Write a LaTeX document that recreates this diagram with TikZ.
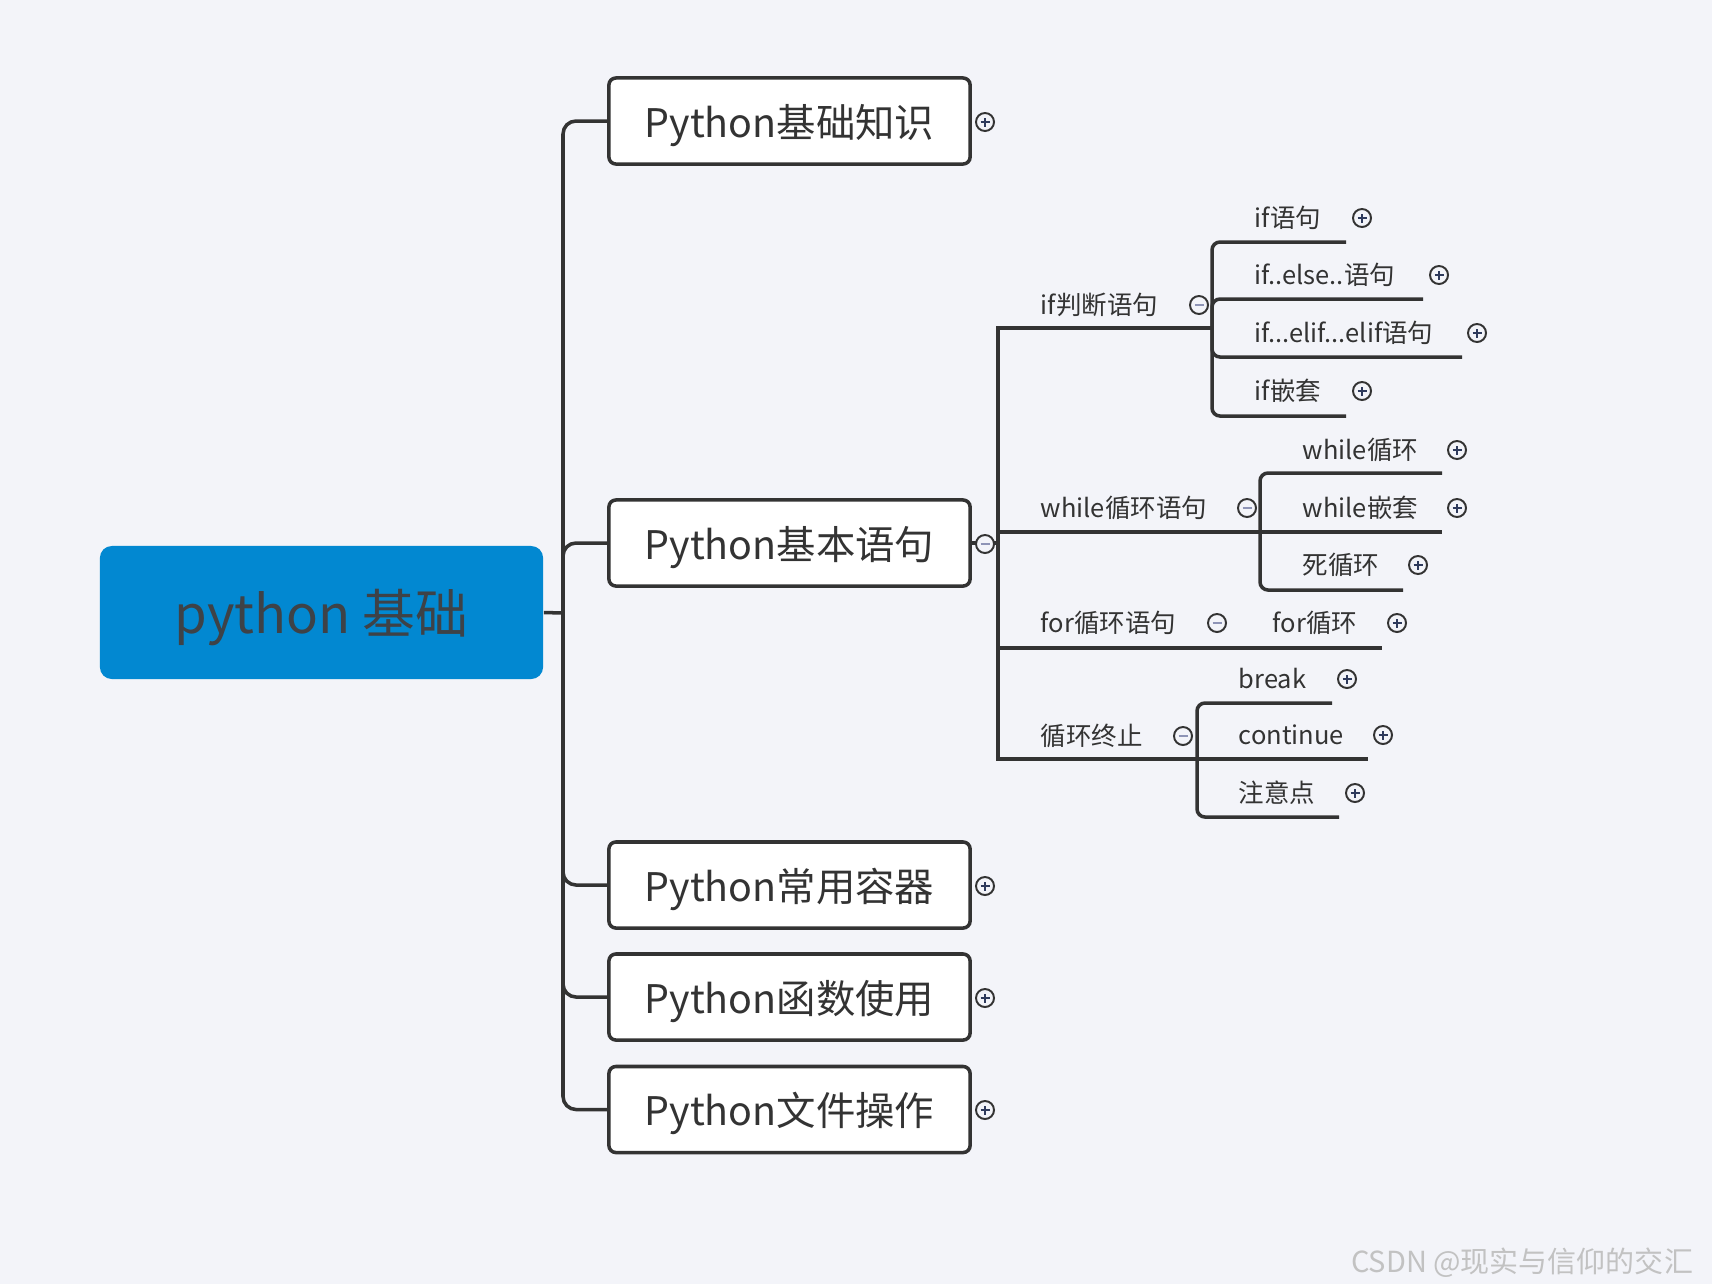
\documentclass[tikz,border=0pt]{standalone}
\usepackage{fontspec}
\usepackage{tikz}
\usetikzlibrary{positioning}
\newfontfamily\cjk{Noto Sans CJK SC}
\definecolor{BgGray}{HTML}{F3F4F9}
\definecolor{RootBlue}{HTML}{0288D1}
\definecolor{LineDark}{HTML}{333333}
\definecolor{TextDark}{HTML}{333333}
\definecolor{RootText}{HTML}{3E4247}
\definecolor{SignNavy}{HTML}{2E3A5C}
\definecolor{SignGray}{HTML}{8E94B6}
\definecolor{MarkGray}{HTML}{C2C2C2}
\tikzset{
  rootbox/.style={fill=RootBlue,rounded corners=0.12cm,
    minimum width=4.43cm,minimum height=1.33cm,inner sep=0pt,
    font=\cjk\fontsize{15.0}{18}\selectfont,text=RootText,
    text height=1.3em,text depth=0.12em},
  topicbox/.style={draw=LineDark,fill=white,line width=1pt,rounded corners=0.07cm,
    minimum width=3.61cm,minimum height=0.86cm,inner sep=0pt,
    font=\cjk\fontsize{11.2}{14}\selectfont,text=TextDark,
    text height=1.05em,text depth=0.12em},
  subtopic/.style={anchor=west,inner sep=0pt,
    font=\cjk\fontsize{7.25}{9}\selectfont,text=TextDark,
    text height=0.64em,text depth=0.12em},
  link/.style={draw=LineDark,line width=1pt},
  elbow/.style={link,rounded corners=0.08cm},
  plusmark/.style={circle,draw=LineDark,line width=0.55pt,fill=BgGray,
    minimum size=0.18cm,inner sep=0pt,
    path picture={\draw[SignNavy,line width=0.7pt]
      ([xshift=-0.045cm]path picture bounding box.center) -- ([xshift=0.045cm]path picture bounding box.center)
      ([yshift=-0.045cm]path picture bounding box.center) -- ([yshift=0.045cm]path picture bounding box.center);}},
  minusmark/.style={circle,draw=LineDark,line width=0.55pt,fill=BgGray,
    minimum size=0.18cm,inner sep=0pt,
    path picture={\draw[SignGray,line width=0.7pt]
      ([xshift=-0.045cm]path picture bounding box.center) -- ([xshift=0.045cm]path picture bounding box.center);}},
}
\begin{document}
\begin{tikzpicture}[x=0.01cm,y=-0.01cm]
  \fill[BgGray] (0,0) rectangle (1712,1284);
  \useasboundingbox (0,0) rectangle (1712,1284);
  % root and first level
  \node[rootbox] (root) at (321.5,612.5) {python 基础};
  \node[topicbox] (py1) at (789.5,121) {Python基础知识};
  \node[topicbox] (py2) at (789.5,543) {Python基本语句};
  \node[topicbox] (py3) at (789.5,885) {Python常用容器};
  \node[topicbox] (py4) at (789.5,997) {Python函数使用};
  \node[topicbox] (py5) at (789.5,1109.5) {Python文件操作};
  \coordinate (tr0) at (563,613);
  \coordinate (tr1) at (998,543);
  \draw[link] (root.east) -- (tr0);
  \draw[link,rounded corners=0.13cm] (tr0) |- (py1.west);
  \draw[link,rounded corners=0.13cm] (tr0) |- (py2.west);
  \draw[link,rounded corners=0.13cm] (tr0) |- (py3.west);
  \draw[link,rounded corners=0.13cm] (tr0) |- (py4.west);
  \draw[link,rounded corners=0.13cm] (tr0) |- (py5.west);
  \draw[link] (py2.east) -- (tr1);
  \node[plusmark] (pm1) at (985,122) {};
  \node[minusmark] (pm2) at (985,544) {};
  \node[plusmark] (pm3) at (985,886) {};
  \node[plusmark] (pm4) at (985,998) {};
  \node[plusmark] (pm5) at (985,1110) {};
  % second level
  \node[subtopic] (s1) at (1040,305) {if判断语句};
  \node[subtopic] (s2) at (1040,508) {while循环语句};
  \node[subtopic] (s3) at (1040,623) {for循环语句};
  \node[subtopic] (s4) at (1040,736) {循环终止};
  \coordinate (e1) at (1212,328);
  \coordinate (e2) at (1260,532);
  \coordinate (e3) at (1230,648);
  \coordinate (e4) at (1197,759);
  \draw[link] (tr1) |- (e1);
  \draw[link] (tr1) |- (e2);
  \draw[link] (tr1) |- (e3);
  \draw[link] (tr1) |- (e4);
  \node[minusmark] (sm1) at (1199,305) {};
  \node[minusmark] (sm2) at (1247,508) {};
  \node[minusmark] (sm3) at (1217,623) {};
  \node[minusmark] (sm4) at (1183,736) {};
  % third level
  \node[subtopic] (l1) at (1254,218) {if语句};
  \node[subtopic] (l2) at (1254,275) {if..else..语句};
  \node[subtopic] (l3) at (1254,333) {if...elif...elif语句};
  \node[subtopic] (l4) at (1254,391) {if嵌套};
  \node[subtopic] (l5) at (1302,450) {while循环};
  \node[subtopic] (l6) at (1302,508) {while嵌套};
  \node[subtopic] (l7) at (1302,565) {死循环};
  \node[subtopic] (l8) at (1272,623) {for循环};
  \node[subtopic] (l9) at (1238,679) {break};
  \node[subtopic] (l10) at (1238,735) {continue};
  \node[subtopic] (l11) at (1238,793) {注意点};
  \coordinate (f1) at (1346,242);
  \coordinate (f2) at (1423,299);
  \coordinate (f3) at (1462,357);
  \coordinate (f4) at (1346,416);
  \coordinate (f5) at (1442,473);
  \coordinate (f6) at (1442,532);
  \coordinate (f7) at (1403,590);
  \coordinate (f8) at (1382,648);
  \coordinate (f9) at (1332,703);
  \coordinate (f10) at (1368,759);
  \coordinate (f11) at (1339,817);
  \draw[elbow] (e1) |- (f1);
  \draw[elbow] (e1) |- (f2);
  \draw[elbow] (e1) |- (f3);
  \draw[elbow] (e1) |- (f4);
  \draw[elbow] (e2) |- (f5);
  \draw[link] (e2) -- (f6);
  \draw[elbow] (e2) |- (f7);
  \draw[link] (e3) -- (f8);
  \draw[elbow] (e4) |- (f9);
  \draw[link] (e4) -- (f10);
  \draw[elbow] (e4) |- (f11);
  \node[plusmark] (lm1) at (1362,218) {};
  \node[plusmark] (lm2) at (1439,275) {};
  \node[plusmark] (lm3) at (1477,333) {};
  \node[plusmark] (lm4) at (1362,391) {};
  \node[plusmark] (lm5) at (1457,450) {};
  \node[plusmark] (lm6) at (1457,508) {};
  \node[plusmark] (lm7) at (1418,565) {};
  \node[plusmark] (lm8) at (1397,623) {};
  \node[plusmark] (lm9) at (1347,679) {};
  \node[plusmark] (lm10) at (1383,735) {};
  \node[plusmark] (lm11) at (1355,793) {};
  % watermark
  \node[inner sep=0pt,font=\cjk\fontsize{8.25}{10}\selectfont,text=MarkGray] (mark) at (1522,1263) {CSDN @现实与信仰的交汇};
\end{tikzpicture}
\end{document}
